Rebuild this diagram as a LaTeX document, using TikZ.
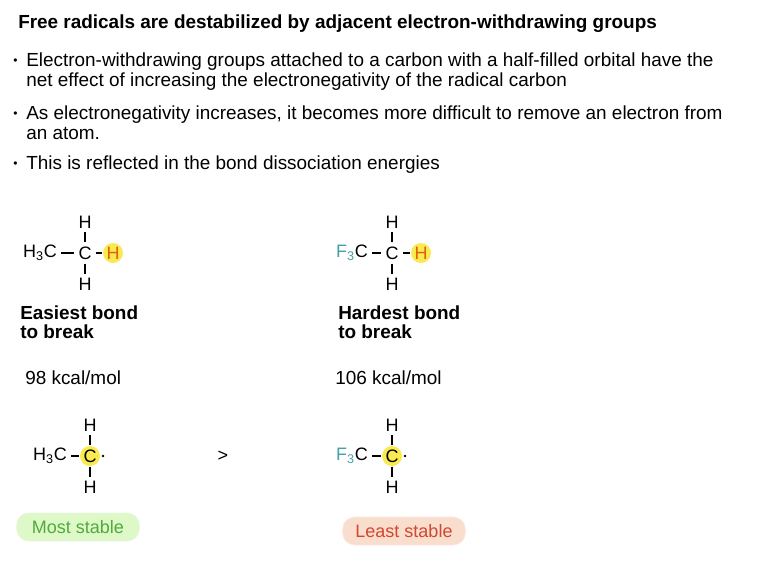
\documentclass[tikz,border=0pt]{standalone}
\usepackage{fontspec}
\setmainfont{Liberation Sans}
\definecolor{glow}{RGB}{248,234,80}
\definecolor{hcol}{RGB}{225,95,10}
\definecolor{fcol}{RGB}{70,160,165}
\definecolor{mostfill}{RGB}{222,248,200}
\definecolor{mosttext}{RGB}{80,170,60}
\definecolor{leastfill}{RGB}{250,222,205}
\definecolor{leasttext}{RGB}{210,70,50}
\newcommand{\sub}[1]{\textsubscript{#1}}
\tikzset{
  txt/.style={anchor=base west, inner sep=0pt, font=\fontsize{14.2}{17}\selectfont},
  bold/.style={txt, font=\fontsize{14.2}{17}\selectfont\bfseries},
  atom/.style={inner sep=1.5pt, font=\fontsize{13.5}{16}\selectfont},
  bond/.style={line width=1.4pt, shorten <=1.5pt, shorten >=1.5pt},
  pill/.style={rounded corners=9pt, minimum width=92pt, minimum height=21pt, font=\fontsize{13.5}{16}\selectfont}
}
\begin{document}
\begin{tikzpicture}[x=0.75pt, y=-0.75pt]
    \useasboundingbox (0, 0) rectangle (760, 569);
    \node[bold] at (18, 28) {Free radicals are destabilized by adjacent electron-withdrawing groups};
    \node[txt, font=\small] at (13, 64) {\textbullet};
    \node[txt] at (26, 66) {Electron-withdrawing groups attached to a carbon with a half-filled orbital have the};
    \node[txt] at (26, 86) {net effect of increasing the electronegativity of the radical carbon};
    \node[txt, font=\small] at (13, 117) {\textbullet};
    \node[txt] at (26, 119) {As electronegativity increases, it becomes more difficult to remove an electron from};
    \node[txt] at (26, 139) {an atom.};
    \node[txt, font=\small] at (13, 167) {\textbullet};
    \node[txt] at (26, 169) {This is reflected in the bond dissociation energies};

    % left C-H bond
    \node[atom] (lme) at (40, 253) {H\sub{3}C};
    \node[atom] (lc) at (85, 253) {C};
    \node[atom] (lht) at (85, 222) {H};
    \node[atom] (lhb) at (85, 284) {H};
    \fill[glow] (113, 253) circle (10);
    \node[atom, text=hcol] (lh) at (113, 253) {H};
    \draw[bond] (lme) -- (lc);
    \draw[bond] (lc) -- (lh);
    \draw[bond] (lc) -- (lht);
    \draw[bond] (lc) -- (lhb);

    % right C-H bond
    \node[atom] (rme) at (352, 253) {\textcolor{fcol}{F\sub{3}}C};
    \node[atom] (rc) at (392, 253) {C};
    \node[atom] (rht) at (392, 222) {H};
    \node[atom] (rhb) at (392, 284) {H};
    \fill[glow] (421, 253) circle (10);
    \node[atom, text=hcol] (rh) at (421, 253) {H};
    \draw[bond] (rme) -- (rc);
    \draw[bond] (rc) -- (rh);
    \draw[bond] (rc) -- (rht);
    \draw[bond] (rc) -- (rhb);

    \node[bold] at (20, 319) {Easiest bond};
    \node[bold] at (20, 338) {to break};
    \node[bold] at (338, 319) {Hardest bond};
    \node[bold] at (338, 338) {to break};
    \node[txt] at (25, 384) {98 kcal/mol};
    \node[txt] at (335, 384) {106 kcal/mol};

    % radicals
    \node[atom] (lrme) at (50, 456) {H\sub{3}C};
    \fill[glow] (90, 456) circle (10);
    \node[atom] (lrc) at (90, 456) {C};
    \node[atom] (lrht) at (90, 425) {H};
    \node[atom] (lrhb) at (90, 487) {H};
    \fill (103, 456) circle (1.3);
    \draw[bond] (lrme) -- (lrc);
    \draw[bond] (lrc) -- (lrht);
    \draw[bond] (lrc) -- (lrhb);

    \node[atom] (gt) at (223, 456) {>};

    \node[atom] (rrme) at (352, 456) {\textcolor{fcol}{F\sub{3}}C};
    \fill[glow] (392, 456) circle (10);
    \node[atom] (rrc) at (392, 456) {C};
    \node[atom] (rrht) at (392, 425) {H};
    \node[atom] (rrhb) at (392, 487) {H};
    \fill (405, 456) circle (1.3);
    \draw[bond] (rrme) -- (rrc);
    \draw[bond] (rrc) -- (rrht);
    \draw[bond] (rrc) -- (rrhb);

    \node[pill, fill=mostfill, draw=mostfill!70!mosttext!30, text=mosttext] (most) at (78, 527) {Most stable};
    \node[pill, fill=leastfill, draw=leastfill!70!leasttext!30, text=leasttext] (least) at (404, 531) {Least stable};
\end{tikzpicture}
\end{document}
